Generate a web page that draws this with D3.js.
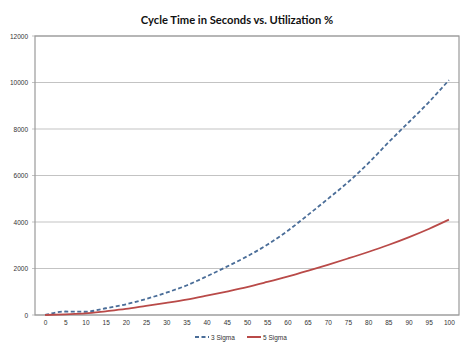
<!DOCTYPE html>
<html>
<head>
<meta charset="utf-8">
<script src="https://cdn.jsdelivr.net/npm/d3@7"></script>
<style>
  body { margin: 0; background: #fff; }
  svg { display: block; font-family: "Liberation Sans", Arial, sans-serif; }
</style>
</head>
<body>
<div id="chart"></div>
<script>
// data
const utilization = [0, 5, 10, 15, 20, 25, 30, 35, 40, 45, 50, 55, 60, 65, 70, 75, 80, 85, 90, 95, 100];
const sigma3 = [0, 150, 140, 290, 460, 690, 960, 1270, 1660, 2080, 2520, 3020, 3610, 4290, 4990, 5710, 6520, 7420, 8280, 9150, 10100];
const sigma5 = [0, 30, 70, 160, 260, 390, 520, 660, 830, 1010, 1200, 1420, 1650, 1900, 2160, 2430, 2710, 3010, 3340, 3700, 4100];
const yTicks = [0, 2000, 4000, 6000, 8000, 10000, 12000];
const seriesNames = ['3 Sigma', '5 Sigma'];

const width = 474, height = 355;
const margin = { top: 36, right: 15, bottom: 40, left: 35 };
const innerW = width - margin.left - margin.right;
const innerH = height - margin.top - margin.bottom;

const svg = d3.select('#chart').append('svg')
    .attr('width', width)
    .attr('height', height);

// title
svg.append('text')
    .attr('x', 237)
    .attr('y', 24)
    .attr('text-anchor', 'middle')
    .attr('font-family', 'Lato, "Open Sans", sans-serif')
    .attr('font-weight', 'bold')
    .attr('font-size', 11.2)
    .attr('fill', '#111')
    .text('Cycle Time in Seconds vs. Utilization %');

const g = svg.append('g').attr('transform', `translate(${margin.left},${margin.top})`);

// category axis, labels in the middle of each slot
const x = d3.scalePoint()
    .domain(utilization)
    .range([0, innerW])
    .padding(0.5);

const y = d3.scaleLinear()
    .domain([0, 12000])
    .range([innerH, 0]);

// gridlines
g.append('g')
  .selectAll('line')
  .data(yTicks)
  .enter().append('line')
    .attr('x1', -3)
    .attr('x2', innerW)
    .attr('y1', d => y(d))
    .attr('y2', d => y(d))
    .attr('stroke', '#c3c3c3')
    .attr('stroke-width', 1);

// plot border
g.append('rect')
    .attr('x', 0)
    .attr('y', 0)
    .attr('width', innerW)
    .attr('height', innerH)
    .attr('fill', 'none')
    .attr('stroke', '#9a9a9a')
    .attr('stroke-width', 1.2);

// y axis labels
const yAxis = g.append('g')
    .call(d3.axisLeft(y).tickValues(yTicks).tickSize(0).tickPadding(7).tickFormat(d3.format('d')));
yAxis.select('.domain').remove();
yAxis.selectAll('text')
    .attr('font-size', 6.5)
    .attr('fill', '#333');

// x axis labels
const xAxis = g.append('g')
    .attr('transform', `translate(0,${innerH})`)
    .call(d3.axisBottom(x).tickSize(0).tickPadding(5));
xAxis.select('.domain').remove();
xAxis.selectAll('text')
    .attr('font-size', 6.5)
    .attr('fill', '#333');

const line = d3.line()
    .x((d, i) => x(utilization[i]))
    .y(d => y(d))
    .curve(d3.curveMonotoneX);

g.append('path')
    .datum(sigma3)
    .attr('d', line)
    .attr('fill', 'none')
    .attr('stroke', '#4a6d98')
    .attr('stroke-width', 1.8)
    .attr('stroke-dasharray', '4,2.5');

g.append('path')
    .datum(sigma5)
    .attr('d', line)
    .attr('fill', 'none')
    .attr('stroke', '#b94a48')
    .attr('stroke-width', 1.8);

// legend
const legend = svg.append('g').attr('transform', 'translate(195,337)');
const items = [
  { name: seriesNames[0], color: '#4a6d98', dash: '4,2.5', x: 0 },
  { name: seriesNames[1], color: '#b94a48', dash: null, x: 52 }
];
items.forEach(it => {
  const li = legend.append('g').attr('transform', `translate(${it.x},0)`);
  li.append('line')
      .attr('x1', 0).attr('x2', 14)
      .attr('y1', 0).attr('y2', 0)
      .attr('stroke', it.color)
      .attr('stroke-width', 2)
      .attr('stroke-dasharray', it.dash);
  li.append('text')
      .attr('x', 16)
      .attr('y', 2.5)
      .attr('font-size', 6.5)
      .attr('fill', '#333')
      .text(it.name);
});
</script>
</body>
</html>
